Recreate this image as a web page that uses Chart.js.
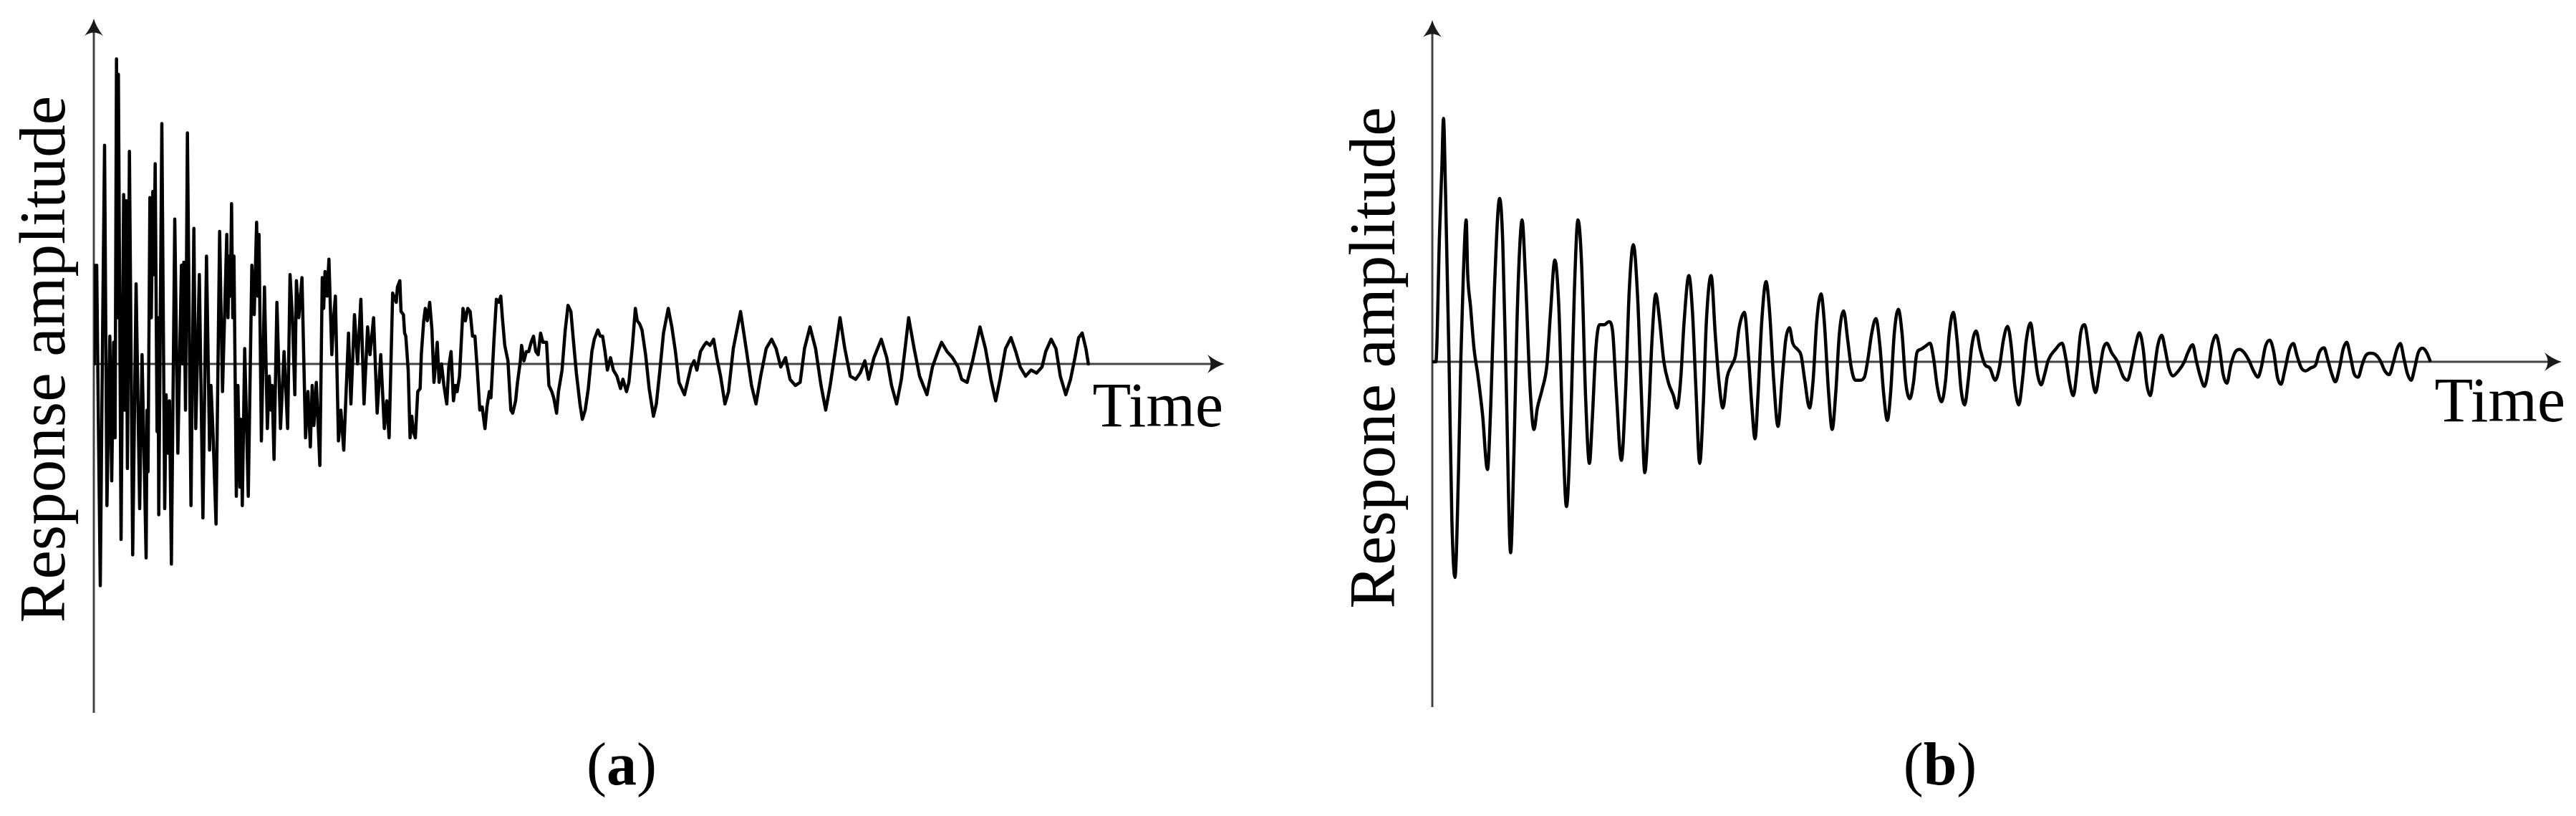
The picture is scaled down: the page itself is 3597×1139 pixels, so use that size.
<!DOCTYPE html>
<html>
<head>
<meta charset="utf-8">
<title>Response amplitude</title>
<script src="https://cdn.jsdelivr.net/npm/chart.js@4.4.1/dist/chart.umd.min.js"></script>
<style>
  html, body { margin: 0; padding: 0; background: #fff; }
  body { width: 3597px; height: 1139px; position: relative; overflow: hidden; }
  canvas { position: absolute; top: 0; }
  #chartA { left: 0; }
  #chartB { left: 1800px; }
  .caption { position: absolute; top: 1025px; width: 200px; text-align: center;
             font: 84px "Liberation Serif", serif; line-height: 84px; color: #000; }
</style>
</head>
<body>
<canvas id="chartA" width="1790" height="1040"></canvas>
<canvas id="chartB" width="1797" height="1040"></canvas>
<div class="caption" style="left:768px">(<b>a</b>)</div>
<div class="caption" style="left:2609px">(<b>b</b>)</div>
<script>
// response (a): [time, amplitude]
const responseA = [
  [0,0],[0.05,0.32],[0.17,0.15],[0.29,0.32],[0.46,-0.19],[0.65,-0.72],[0.89,0.12],[1.08,0.71],
  [1.32,-0.46],[1.61,0.09],[1.80,-0.38],[1.99,0.07],[2.14,-0.24],[2.28,0.99],[2.38,0.15],[2.47,0.94],
  [2.74,-0.57],[3.00,0.55],[3.10,-0.15],[3.24,0.53],[3.38,-0.34],[3.58,0.69],[3.91,-0.62],[4.25,0.26],
  [4.61,-0.47],[4.85,0.03],[5.26,-0.63],[5.35,-0.15],[5.45,-0.35],[5.64,0.54],[5.78,0.15],[5.93,0.56],
  [6.05,0.29],[6.17,0.65],[6.36,-0.22],[6.46,0.15],[6.53,-0.49],[6.84,0.78],[7.13,-0.47],[7.27,-0.10],
  [7.46,-0.29],[7.61,-0.12],[7.80,-0.65],[8.14,0.47],[8.45,-0.29],[8.81,0.32],[8.93,0],[9.05,0.33],
  [9.22,-0.15],[9.41,0.75],[9.77,-0.46],[10.06,0.44],[10.25,-0.21],[10.61,0.29],[10.97,-0.50],[11.33,0.35],
  [11.64,-0.28],[11.78,-0.07],[11.98,-0.22],[12.29,-0.52],[12.65,0.43],[12.94,-0.09],[13.37,0.42],[13.49,0.15],
  [13.61,0.35],[13.73,0.22],[13.85,0.52],[13.97,0.15],[14.09,0.35],[14.33,-0.43],[14.49,-0.07],[14.69,-0.40],
  [14.81,-0.18],[14.93,-0.46],[15.17,0.05],[15.53,-0.43],[15.89,0.32],[16.13,0.16],[16.37,0.46],[16.49,0.22],
  [16.61,0.42],[16.85,-0.25],[17.16,0.25],[17.45,-0.21],[17.64,-0.04],[17.81,-0.15],[17.93,-0.07],[18.12,-0.31],
  [18.41,0.20],[18.77,-0.21],[19.13,0.04],[19.49,-0.21],[19.73,0.29],[19.97,0.15],[20.21,-0.10],[20.37,0.27],
  [20.61,0.15],[20.93,0.28],[21.29,-0.24],[21.53,-0.09],[21.77,-0.27],[21.96,-0.07],[22.13,-0.20],[22.37,-0.06],
  [22.73,-0.33],[22.97,0.28],[23.11,0.18],[23.25,0.30],[23.45,0.22],[23.64,0.34],[23.93,0.03],[24.12,0.15],
  [24.29,0.22],[24.60,-0.25],[24.84,-0.15],[25.13,-0.28],[25.61,0.10],[25.85,-0.13],[26.21,0.16],[26.52,0],
  [26.85,0.21],[27.17,-0.13],[27.53,0.12],[27.77,0.03],[28.13,0.15],[28.49,-0.16],[28.85,0.03],[29.21,-0.21],
  [29.45,-0.12],[29.69,-0.24],[30.05,0.23],[30.41,0.20],[30.53,0.25],[30.77,0.27],[30.89,0.17],[31.13,0.16],
  [31.25,0.10],[31.37,0.09],[31.61,-0.02],[31.80,-0.24],[31.97,-0.17],[32.13,-0.22],[32.33,-0.24],[32.57,-0.09],
  [32.81,-0.08],[32.93,0.03],[33.17,0.14],[33.33,0.18],[33.53,0.14],[33.77,0.20],[34.00,0.11],[34.20,-0.06],
  [34.36,0],[34.53,0.07],[34.72,-0.06],[34.96,0],[35.20,-0.07],[35.49,-0.13],[35.69,-0.01],[35.92,0.04],
  [36.16,-0.12],[36.36,-0.07],[36.53,-0.09],[36.77,-0.04],[36.93,0.06],[37.12,0.18],[37.36,0.14],[37.60,0.18],
  [37.84,0.17],[38.08,0.09],[38.32,0.09],[38.56,-0.02],[38.81,-0.15],[39.05,-0.14],[39.33,-0.21],[39.53,-0.14],
  [39.77,-0.09],[39.93,-0.11],[40.24,0.08],[40.48,0.21],[40.72,0.20],[40.92,0.22],[41.08,0.15],[41.32,0.06],
  [41.64,0.01],[41.93,-0.15],[42.12,-0.16],[42.41,-0.12],[42.60,-0.06],[42.89,0.01],[43.01,0.06],[43.25,0.01],
  [43.49,0.04],[43.73,0.04],[43.97,0.07],[44.21,0.09],[44.44,0.04],[44.68,0.03],[44.92,0.10],[45.16,0.07],
  [45.52,0.07],[45.76,-0.07],[46.05,-0.09],[46.24,-0.11],[46.53,-0.16],[46.72,-0.09],[47.08,-0.02],[47.40,0.11],
  [47.68,0.19],[47.97,0.17],[48.21,0.08],[48.52,-0.03],[48.88,-0.13],[49.12,-0.18],[49.41,-0.15],[49.72,-0.08],
  [50.08,0.04],[50.32,0.08],[50.68,0.11],[50.92,0.09],[51.16,0.09],[51.40,0.04],[51.64,-0.02],[51.95,0.02],
  [52.24,-0.02],[52.60,-0.04],[52.96,-0.08],[53.20,-0.05],[53.56,-0.09],[53.80,-0.06],[54.16,0.06],[54.45,0.18],
  [54.64,0.14],[54.88,0.13],[55.12,0.11],[55.48,0.03],[55.84,-0.08],[56.27,-0.17],[56.56,-0.13],[56.92,-0.02],
  [57.28,0.10],[57.76,0.18],[58.12,0.12],[58.48,0.04],[58.84,-0.06],[59.39,-0.10],[59.68,-0.06],[60.04,-0.01],
  [60.36,0.01],[60.64,-0.02],[61.00,0.04],[61.36,0.06],[61.60,0.07],[61.96,0.06],[62.32,0.08],[62.64,0.02],
  [63.02,-0.04],[63.46,-0.13],[63.82,-0.09],[64.30,0.05],[65.03,0.17],[65.59,0.05],[66.13,-0.07],[66.58,-0.13],
  [67.05,-0.04],[67.61,0.05],[68.15,0.08],[68.60,0.05],[69.07,-0.01],[69.55,0.02],[70.00,-0.05],[70.54,-0.07],
  [71.02,-0.06],[71.46,0.05],[72.01,0.12],[72.57,0.05],[73.12,-0.07],[73.59,-0.15],[74.04,-0.07],[74.59,0.05],
  [75.03,0.15],[75.51,0.05],[76.06,-0.04],[76.61,-0.05],[77.05,-0.03],[77.53,0.01],[77.90,-0.05],[78.44,0.02],
  [79.18,0.08],[79.73,0.02],[80.21,-0.07],[80.72,-0.13],[81.20,-0.05],[81.57,0.05],[81.93,0.15],[82.48,0.05],
  [83.03,-0.04],[83.77,-0.10],[84.32,-0.01],[84.87,0.04],[85.24,0.07],[85.79,0.04],[86.34,0.02],[86.89,-0.01],
  [87.26,-0.05],[87.81,-0.06],[88.36,0.01],[89.10,0.12],[89.65,0.05],[90.20,-0.05],[90.68,-0.12],[91.12,-0.05],
  [91.67,0.05],[92.22,0.085],[92.70,0.04],[93.14,-0.01],[93.69,-0.04],[94.24,-0.02],[94.79,-0.03],[95.34,-0.01],
  [95.71,0.04],[96.26,0.08],[96.74,0.05],[97.18,-0.04],[97.73,-0.10],[98.21,-0.05],[98.65,0.02],[99.02,0.085],
  [99.38,0.10],[99.75,0.05],[100,0]
];

// response (b): [time, amplitude]
const responseB = [
  [0,0],[0.36,0.00],[0.72,0.41],[0.96,0.63],[1.12,0.79],[1.32,0.56],[1.68,0.00],[1.96,-0.51],
  [2.27,-0.70],[2.63,-0.35],[2.87,0.02],[3.11,0.28],[3.40,0.46],[3.54,0.29],[3.83,0.18],[4.19,0.04],
  [4.55,-0.04],[5.03,-0.17],[5.53,-0.35],[5.86,-0.14],[6.22,0.23],[6.75,0.53],[7.06,0.39],[7.42,-0.09],
  [7.85,-0.62],[8.18,-0.30],[8.49,0.13],[8.76,0.37],[9.00,0.46],[9.33,0.28],[9.81,-0.09],[10.19,-0.22],
  [10.53,-0.15],[11.01,-0.09],[11.49,-0.01],[11.85,0.16],[12.28,0.33],[12.68,0.18],[13.04,-0.19],[13.45,-0.47],
  [13.88,-0.19],[14.24,0.23],[14.60,0.46],[14.96,0.32],[15.36,-0.11],[15.75,-0.33],[16.03,-0.19],[16.39,0.04],
  [16.75,0.12],[17.23,0.12],[17.71,0.13],[18.07,0.10],[18.43,-0.09],[18.95,-0.32],[19.38,-0.09],[19.74,0.23],
  [20.15,0.38],[20.58,0.21],[20.94,-0.09],[21.30,-0.36],[21.66,-0.19],[22.02,0.07],[22.40,0.22],[22.73,0.15],
  [23.21,0.00],[23.69,-0.07],[24.17,-0.11],[24.53,-0.15],[24.89,-0.06],[25.24,0.13],[25.72,0.28],[26.08,0.16],
  [26.44,-0.10],[26.80,-0.33],[27.16,-0.14],[27.47,0.13],[27.95,0.28],[28.36,0.09],[28.72,-0.06],[29.13,-0.15],
  [29.55,-0.05],[30.03,-0.01],[30.39,0.02],[30.75,0.11],[31.28,0.16],[31.71,0.01],[32.02,-0.14],[32.35,-0.25],
  [32.66,-0.10],[33.02,0.13],[33.45,0.26],[33.79,0.17],[34.22,-0.06],[34.65,-0.21],[35.06,-0.06],[35.42,0.07],
  [35.80,0.11],[36.13,0.06],[36.61,0.04],[36.97,0.02],[37.33,-0.06],[37.81,-0.15],[38.17,-0.06],[38.53,0.13],
  [38.96,0.22],[39.29,0.13],[39.72,-0.10],[40.08,-0.22],[40.44,-0.10],[40.80,0.09],[41.23,0.165],[41.64,0.07],
  [42.00,-0.02],[42.40,-0.06],[42.83,-0.06],[43.31,-0.05],[43.67,0.01],[44.03,0.09],[44.46,0.14],[44.87,0.05],
  [45.23,-0.10],[45.61,-0.19],[45.94,-0.10],[46.30,0.09],[46.71,0.17],[47.09,0.09],[47.43,-0.06],[47.86,-0.12],
  [48.22,-0.07],[48.58,0.03],[48.94,0.04],[49.42,0.05],[49.89,0.06],[50.25,0.01],[50.61,-0.08],[51.04,-0.13],
  [51.45,-0.06],[51.81,0.09],[52.21,0.16],[52.60,0.07],[53.00,-0.09],[53.36,-0.14],[53.72,-0.06],[54.07,0.05],
  [54.51,0.10],[54.92,0.04],[55.40,-0.01],[55.87,-0.02],[56.42,-0.06],[56.83,-0.02],[57.24,0.07],[57.67,0.115],
  [58.03,0.05],[58.39,-0.08],[58.79,-0.14],[59.15,-0.06],[59.54,0.07],[59.97,0.126],[60.30,0.05],[60.66,-0.04],
  [61.02,-0.075],[61.38,-0.04],[61.74,0.005],[62.46,0.04],[63.12,0.06],[63.53,0.005],[63.89,-0.07],[64.25,-0.11],
  [64.61,-0.03],[64.97,0.09],[65.38,0.12],[65.76,0.05],[66.09,-0.04],[66.48,-0.10],[66.88,-0.03],[67.24,0.04],
  [67.60,0.06],[68.08,0.03],[68.68,0.00],[69.28,-0.05],[69.68,-0.06],[70.11,-0.01],[70.47,0.05],[70.88,0.094],
  [71.26,0.04],[71.60,-0.07],[71.96,-0.11],[72.32,-0.04],[72.70,0.05],[73.11,0.086],[73.46,0.04],[73.82,-0.02],
  [74.23,-0.046],[74.78,-0.03],[75.38,0.00],[75.74,0.03],[76.22,0.055],[76.57,0.005],[77.00,-0.05],[77.39,-0.08],
  [77.77,-0.03],[78.13,0.05],[78.56,0.086],[78.92,0.04],[79.26,-0.04],[79.64,-0.07],[80.04,-0.01],[80.45,0.03],
  [80.93,0.04],[81.36,0.03],[81.84,0.005],[82.32,-0.03],[82.75,-0.05],[83.08,-0.02],[83.51,0.05],[83.94,0.07],
  [84.35,0.03],[84.71,-0.05],[85.07,-0.073],[85.43,-0.03],[85.91,0.04],[86.31,0.059],[86.67,0.02],[87.10,-0.02],
  [87.53,-0.03],[88.06,-0.02],[88.54,-0.01],[88.90,0.03],[89.38,0.045],[89.73,0.01],[90.16,-0.04],[90.52,-0.065],
  [90.93,-0.02],[91.29,0.04],[91.65,0.063],[92.01,0.02],[92.41,-0.04],[92.80,-0.05],[93.20,-0.01],[93.56,0.02],
  [94.04,0.028],[94.52,0.024],[95.00,0.005],[95.48,-0.03],[95.91,-0.042],[96.32,-0.003],[96.68,0.04],[97.03,0.059],
  [97.39,0.01],[97.75,-0.04],[98.11,-0.06],[98.47,-0.02],[98.83,0.03],[99.26,0.044],[99.67,0.03],[100,0.004]
];

// axis extents (time, amplitude)
const timeMaxA = 113.7, ampMinA = -1.133, ampMaxA = 1.121;
const timeMaxB = 113.2, ampMinB = -1.121, ampMaxB = 1.109;

const xLabel = 'Time';
const yLabelA = 'Response amplitude';
const yLabelB = 'Respone amplitude';

function drawArrow(ctx, x, y, angle) {
  ctx.save();
  ctx.translate(x, y);
  ctx.rotate(angle);
  ctx.beginPath();
  ctx.moveTo(0, 0);
  ctx.quadraticCurveTo(-11, -3, -24, -13);
  ctx.quadraticCurveTo(-15, 0, -24, 13);
  ctx.quadraticCurveTo(-11, 3, 0, 0);
  ctx.fill();
  ctx.restore();
}

// draws both axes with arrow heads plus the axis labels
const arrowAxes = {
  id: 'arrowAxes',
  beforeDatasetsDraw(chart, args, opts) {
    const {ctx, chartArea: area, scales} = chart;
    const x0 = scales.x.getPixelForValue(0);
    const y0 = scales.y.getPixelForValue(0);
    ctx.save();
    ctx.strokeStyle = '#444';
    ctx.fillStyle = '#1a1a1a';
    ctx.lineWidth = 3;
    ctx.beginPath();
    ctx.moveTo(x0, area.bottom);
    ctx.lineTo(x0, area.top + 8);
    ctx.moveTo(x0, y0);
    ctx.lineTo(area.right - 8, y0);
    ctx.stroke();
    drawArrow(ctx, x0, area.top, -Math.PI / 2);
    drawArrow(ctx, area.right, y0, 0);

    ctx.fillStyle = '#000';
    ctx.textBaseline = 'alphabetic';
    ctx.font = '88px "Liberation Serif"';
    ctx.textAlign = 'right';
    ctx.fillText(opts.xText, area.right + opts.xTextShift, y0 + opts.xTextDrop);

    ctx.translate(x0 - opts.yTextGap, (area.top + area.bottom) / 2 + opts.yTextShift);
    ctx.rotate(-Math.PI / 2);
    ctx.textAlign = 'center';
    ctx.font = '91px "Liberation Serif"';
    ctx.fillText(opts.yText, 0, 0);
    ctx.restore();
  }
};

function makeChart(id, series, tMax, yMin, yMax, pad, smooth, labels) {
  return new Chart(document.getElementById(id), {
    type: 'line',
    data: {
      datasets: [{
        data: series.map(p => ({x: p[0], y: p[1]})),
        borderColor: '#000',
        borderWidth: 4.5,
        pointRadius: 0,
        tension: smooth ? 0.4 : 0,
        cubicInterpolationMode: smooth ? 'monotone' : 'default',
        borderJoinStyle: 'round',
        borderCapStyle: 'round'
      }]
    },
    options: {
      responsive: false,
      animation: false,
      layout: { padding: pad },
      plugins: {
        legend: { display: false },
        tooltip: { enabled: false },
        arrowAxes: labels
      },
      scales: {
        x: { type: 'linear', min: 0, max: tMax, display: false },
        y: { type: 'linear', min: yMin, max: yMax, display: false }
      }
    },
    plugins: [arrowAxes]
  });
}

makeChart('chartA', responseA, timeMaxA, ampMinA, ampMaxA,
  {left: 131, top: 26, right: 80, bottom: 45}, false,
  {xText: xLabel, xTextShift: -2, xTextDrop: 87, yText: yLabelA, yTextGap: 41, yTextShift: -9});

makeChart('chartB', responseB, timeMaxB, ampMinB, ampMaxB,
  {left: 200, top: 28, right: 20, bottom: 53}, true,
  {xText: xLabel, xTextShift: 5, xTextDrop: 83, yText: yLabelB, yTextGap: 53, yTextShift: -8});
</script>
</body>
</html>
